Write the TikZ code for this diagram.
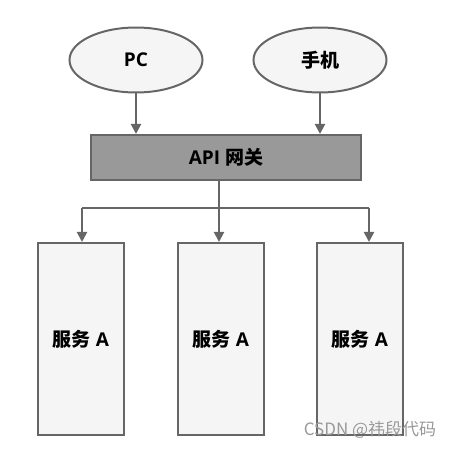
\documentclass[tikz,border=0pt]{standalone}
\usepackage{fontspec}
\setmainfont{Open Sans}
\newfontfamily\cjk{Noto Sans CJK SC}
\usetikzlibrary{shapes.geometric,arrows.meta}

\definecolor{boxfill}{HTML}{F5F5F5}
\definecolor{edgegray}{HTML}{666666}
\definecolor{gwfill}{HTML}{999999}

\tikzset{
	client/.style={ellipse, draw=edgegray, fill=boxfill, line width=2pt, inner sep=0pt,
		minimum width=133pt, minimum height=65pt, font=\bfseries\fontsize{19}{19}\selectfont},
	gateway/.style={rectangle, draw=edgegray, fill=gwfill, line width=2pt, inner sep=0pt,
		minimum width=270pt, minimum height=45pt, font=\bfseries\fontsize{19}{19}\selectfont},
	service/.style={rectangle, draw=edgegray, fill=boxfill, line width=2pt, inner sep=0pt,
		minimum width=86pt, minimum height=192pt, font=\bfseries\fontsize{19}{19}\selectfont},
	link/.style={draw=edgegray, line width=2pt},
	arr/.style={link, -{Triangle[length=10pt,width=10pt]}}
}

\begin{document}
\begin{tikzpicture}[x=1pt, y=-1pt]
	\useasboundingbox (0,0) rectangle (453,449);

	\node[client] (pc) at (136,60) {PC};
	\node[client] (phone) at (320,60) {\cjk\bfseries 手机};

	\node[gateway] (gw) at (226,157.5) {API {\cjk\bfseries 网关}};

	\node[service] (svc1) at (81,339) {{\cjk\bfseries 服务} A};
	\node[service] (svc2) at (221,339) {{\cjk\bfseries 服务} A};
	\node[service] (svc3) at (360,339) {{\cjk\bfseries 服务} A};

	\draw[arr] (pc.south) -- (pc.south |- gw.north);
	\draw[arr] (phone.south) -- (phone.south |- gw.north);

	\coordinate (split) at (219,208);
	\coordinate (left) at (82,208);
	\coordinate (right) at (369,208);

	\draw[link] (gw.south -| split) -- (split);
	\draw[link] (left) -- (right);
	\draw[arr] (left) -- (left |- svc1.north);
	\draw[arr] (split) -- (split |- svc2.north);
	\draw[arr] (right) -- (right |- svc3.north);

	\node[text=gray!80, font=\cjk\fontsize{17}{17}\selectfont] (mark) at (370,430) {CSDN @祎段代码};
\end{tikzpicture}
\end{document}
